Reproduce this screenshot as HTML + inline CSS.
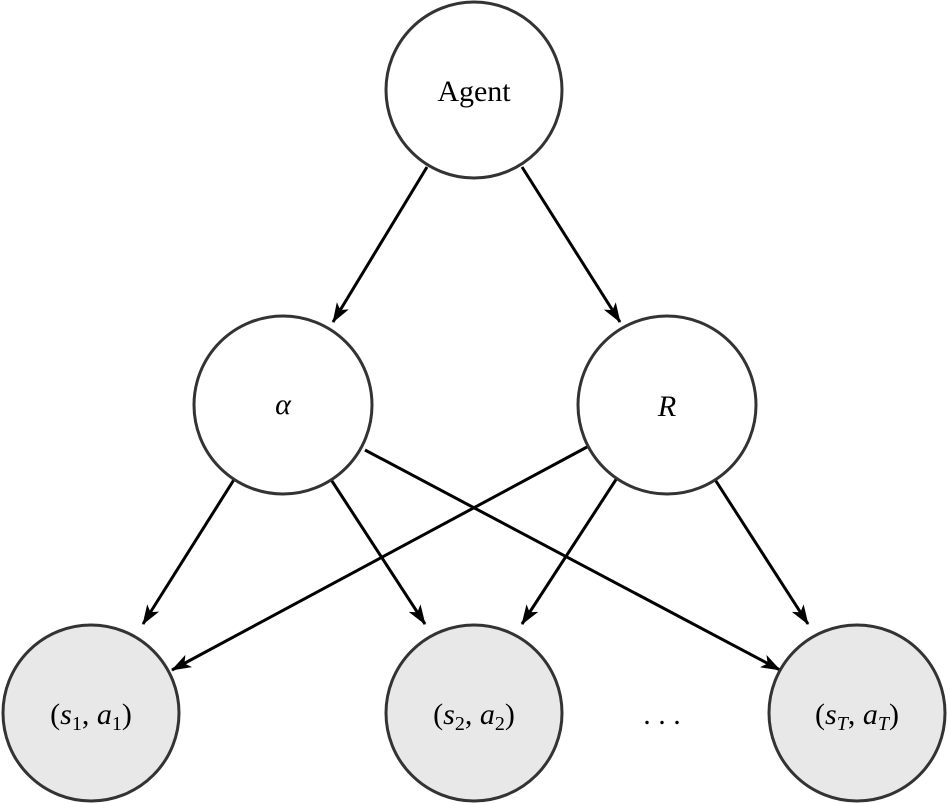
<!DOCTYPE html>
<html><head><meta charset="utf-8"><style>
html,body{margin:0;padding:0;background:#fff;}
svg{display:block;}
text{font-family:"Liberation Serif",serif;font-size:30px;fill:#000;}
</style></head><body>
<svg width="948" height="803" viewBox="0 0 948 803" xmlns="http://www.w3.org/2000/svg">
<defs>
<marker id="ah" viewBox="0 0 20 14" refX="19" refY="7" markerWidth="20" markerHeight="14" markerUnits="userSpaceOnUse" orient="auto">
<path d="M0,0 L20,7 L0,14 L5,7 Z" fill="#000"/>
</marker>
</defs>
<g stroke="#000" stroke-width="3" fill="none" marker-end="url(#ah)">
<line x1="427" y1="167" x2="333" y2="322"/>
<line x1="522" y1="167" x2="620" y2="322"/>
<line x1="235" y1="478" x2="143" y2="624"/>
<line x1="330" y1="478" x2="425" y2="624"/>
<line x1="365" y1="450" x2="780" y2="670"/>
<line x1="587" y1="447" x2="172" y2="670"/>
<line x1="617" y1="478" x2="522" y2="624"/>
<line x1="714" y1="478" x2="808" y2="624"/>
</g>
<g stroke="#333" stroke-width="3">
<circle cx="474" cy="90" r="88" fill="#fff"/>
<circle cx="283" cy="405" r="89" fill="#fff"/>
<circle cx="667" cy="405" r="89" fill="#fff"/>
<circle cx="91" cy="713" r="88" fill="#e8e8e8"/>
<circle cx="474" cy="713" r="88" fill="#e8e8e8"/>
<circle cx="857" cy="713" r="88" fill="#e8e8e8"/>
</g>
<text x="474" y="101" text-anchor="middle">Agent</text>
<text x="283" y="414" text-anchor="middle" font-style="italic">α</text>
<text x="667" y="416" text-anchor="middle" font-style="italic">R</text>
<text x="91" y="724" text-anchor="middle">(<tspan font-style="italic">s</tspan><tspan font-size="20" dy="6">1</tspan><tspan dy="-6">, </tspan><tspan font-style="italic">a</tspan><tspan font-size="20" dy="6">1</tspan><tspan dy="-6">)</tspan></text>
<text x="474" y="724" text-anchor="middle">(<tspan font-style="italic">s</tspan><tspan font-size="20" dy="6">2</tspan><tspan dy="-6">, </tspan><tspan font-style="italic">a</tspan><tspan font-size="20" dy="6">2</tspan><tspan dy="-6">)</tspan></text>
<text x="857" y="724" text-anchor="middle">(<tspan font-style="italic">s</tspan><tspan font-size="20" font-style="italic" dy="6">T</tspan><tspan dy="-6">, </tspan><tspan font-style="italic">a</tspan><tspan font-size="20" font-style="italic" dy="6">T</tspan><tspan dy="-6">)</tspan></text>
<text x="662" y="724" text-anchor="middle">. . .</text>
</svg>
</body></html>
